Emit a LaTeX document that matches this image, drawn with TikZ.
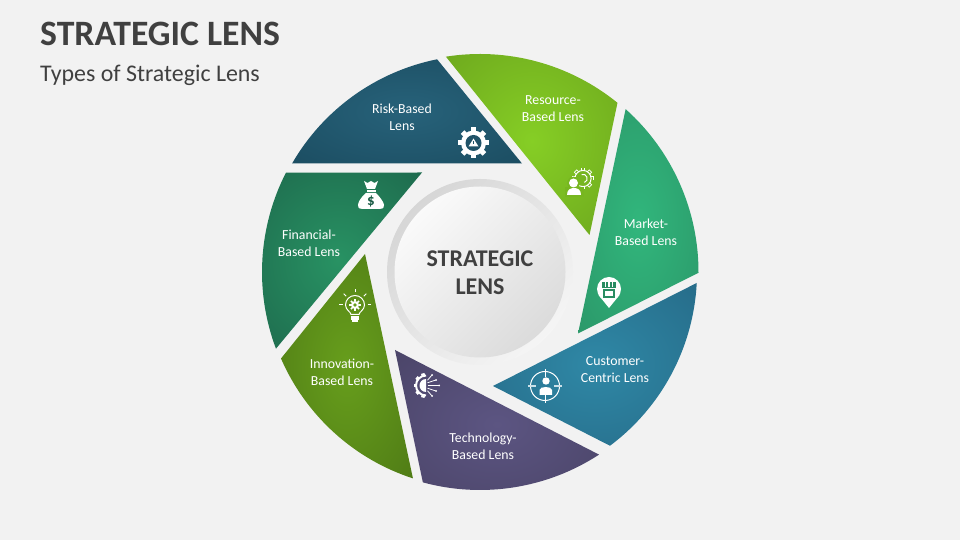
\documentclass[tikz,border=0pt]{standalone}
\usepackage{fontspec}
\setmainfont{Carlito}
\definecolor{slideGray}{HTML}{F2F2F2}
\definecolor{titleGray}{HTML}{404040}
\definecolor{riskIn}{HTML}{27627A}
\definecolor{riskOut}{HTML}{174558}
\definecolor{resourceIn}{HTML}{86CE25}
\definecolor{resourceOut}{HTML}{64991B}
\definecolor{marketIn}{HTML}{31B67C}
\definecolor{marketOut}{HTML}{298C62}
\definecolor{customerIn}{HTML}{2F88A6}
\definecolor{customerOut}{HTML}{23617E}
\definecolor{techIn}{HTML}{5C5582}
\definecolor{techOut}{HTML}{443E5E}
\definecolor{innovIn}{HTML}{679E1C}
\definecolor{innovOut}{HTML}{466E13}
\definecolor{financeIn}{HTML}{289263}
\definecolor{financeOut}{HTML}{1A5B45}
\colorlet{gearGreen}{resourceIn!55!resourceOut}
\pgfdeclareradialshading{riskShade}{\pgfpointorigin}{color(0bp)=(riskIn); color(50bp)=(riskOut)}
\pgfdeclareradialshading{resourceShade}{\pgfpointorigin}{color(0bp)=(resourceIn); color(50bp)=(resourceOut)}
\pgfdeclareradialshading{marketShade}{\pgfpointorigin}{color(0bp)=(marketIn); color(50bp)=(marketOut)}
\pgfdeclareradialshading{customerShade}{\pgfpointorigin}{color(0bp)=(customerIn); color(50bp)=(customerOut)}
\pgfdeclareradialshading{techShade}{\pgfpointorigin}{color(0bp)=(techIn); color(50bp)=(techOut)}
\pgfdeclareradialshading{innovShade}{\pgfpointorigin}{color(0bp)=(innovIn); color(50bp)=(innovOut)}
\pgfdeclareradialshading{financeShade}{\pgfpointorigin}{color(0bp)=(financeIn); color(50bp)=(financeOut)}
\newcommand{\lensSegment}[5]{\shade[shading=#1,shift={(hub)}] (#2:#5) arc[start angle=#2,end angle=#3,radius=#5pt] -- (#4) -- cycle;}
\newcommand{\gearTeeth}[4]{\foreach \a in {0,45,...,315} \draw[white,line width=#4] (#1) ++(\a:#2) -- ++(\a:#3);}
\tikzset{
    lensLabel/.style={white,align=center,inner sep=0pt,font=\fontsize{13.8}{17}\selectfont},
    iconLine/.style={white,line width=1pt}
}

\begin{document}
\begin{tikzpicture}[x=1pt,y=1pt]
    \useasboundingbox (0,0) rectangle (960,540);
    \fill[slideGray] (0,0) rectangle (960,540);
    \node[anchor=base west,inner sep=0pt,titleGray,font=\fontsize{35.7}{40}\selectfont\bfseries] (mainTitle) at (40,494){STRATEGIC LENS};
    \node[anchor=base west,inner sep=0pt,titleGray,font=\fontsize{23.9}{28}\selectfont] (subTitle) at (40,458){Types of Strategic Lens};

    \coordinate (hub) at (480,268);
    \coordinate (riskTip) at (522,376.5);
    \coordinate (resourceTip) at (589.5,305);
    \coordinate (marketTip) at (578,206.5);
    \coordinate (customerTip) at (493,154);
    \coordinate (techTip) at (395,190);
    \coordinate (innovTip) at (365,286);
    \coordinate (financeTip) at (422,367.5);
    \lensSegment{riskShade}{101.4}{150}{riskTip}{217}
    \lensSegment{resourceShade}{99}{50.9}{resourceTip}{218}
    \lensSegment{marketShade}{48.2}{-0.2}{marketTip}{218.5}
    \lensSegment{customerShade}{-2.9}{-53.2}{customerTip}{217}
    \lensSegment{techShade}{-56.9}{-105.2}{techTip}{218}
    \lensSegment{innovShade}{-108}{-156.5}{innovTip}{217}
    \lensSegment{financeShade}{200.6}{152.9}{financeTip}{218}

    % centre disc
    \shade[top color=black!16,bottom color=white!96!black,shading angle=45] (hub) circle (93);
    \shade[top color=white!98!black,bottom color=black!14,shading angle=45] (hub) circle (85.5);
    \node[align=center,inner sep=0pt,titleGray,font=\fontsize{24}{28}\selectfont\bfseries] (hubLabel) at (480,267){STRATEGIC\\LENS};

    \node[lensLabel] (riskLabel) at (402,423){Risk-Based\\Lens};
    \node[lensLabel] (resourceLabel) at (553,431.5){Resource-\\Based Lens};
    \node[lensLabel] (marketLabel) at (646,308){Market-\\Based Lens};
    \node[lensLabel] (customerLabel) at (615,170.5){Customer-\\Centric Lens};
    \node[lensLabel] (techLabel) at (483,94){Technology-\\Based Lens};
    \node[lensLabel] (innovLabel) at (342,168){Innovation-\\Based Lens};
    \node[lensLabel] (financeLabel) at (309,297){Financial-\\Based Lens};

    % risk icon
    \coordinate (riskGear) at (473.5,397);
    \fill[white] (riskGear) circle (12.5);
    \gearTeeth{riskGear}{11}{4.5}{5pt}
    \fill[riskIn!85!black] (riskGear) circle (8);
    \fill[white] (473.5,401.5) -- (478.5,393.5) -- (468.5,393.5) -- cycle;
    \draw[riskIn!85!black,line width=.8pt] (473.5,399) -- (473.5,396);
    % money bag
    \fill[white] (366,347) .. controls (360,342) and (358,337) .. (358,335) .. controls (358,331) and (361,331) .. (363,331) -- (379,331) .. controls (381,331) and (384,331) .. (384,335) .. controls (384,337) and (381,342) .. (376,347) -- cycle;
    \fill[white] (364,359) -- (367.5,357) -- (371,359) -- (374.5,357) -- (378,359) -- (375,351) -- (367,351) -- cycle;
    \fill[white] (366.5,350) rectangle (375.5,348);
    \node[inner sep=0pt,financeOut,font=\fontsize{15}{15}\selectfont\bfseries] (bagSign) at (371,339){\$};
    % person and gear
    \coordinate (resGear) at (583,361.5);
    \gearTeeth{resGear}{7.5}{3.4}{4pt}
    \foreach \a in {0,45,...,315} \draw[gearGreen,line width=2.2pt] (resGear) ++(\a:7) -- ++(\a:3);
    \fill[gearGreen] (resGear) circle (7.8);
    \draw[iconLine] (resGear) circle (8.1);
    \draw[iconLine] (resGear) ++(-70:4.2) arc[start angle=-70,end angle=110,radius=4.2pt];
    \fill[gearGreen] (573.5,357) circle (6.3);
    \fill[gearGreen] (565,343) rectangle (583.5,353);
    \fill[white] (573.5,357) circle (4.5);
    \fill[white] (567,345) .. controls (567,350) and (570,352) .. (574,352) .. controls (578,352) and (581,350) .. (581,345) -- cycle;
    % map pin
    \fill[white] (609,251) circle (12);
    \fill[white] (609,232) -- (598.5,245) -- (619.5,245) -- cycle;
    \fill[marketOut] (602,257.5) rectangle (616,251.5);
    \fill[marketOut] (603,250.5) rectangle (615,242);
    \foreach \x in {604.5,608,611.5} \fill[white] (\x,257.5) rectangle ++(1.5,-5);
    \fill[white] (605,249) rectangle (613,244);
    % target person
    \coordinate (custIcon) at (545,154);
    \draw[iconLine] (custIcon) circle (14.5);
    \draw[white!75!customerIn,line width=2.5pt] (528,154) -- (536,154);
    \draw[white!75!customerIn,line width=2.5pt] (554,154) -- (562,154);
    \draw[iconLine] (545.5,171) -- (545.5,163);
    \draw[iconLine] (545.5,146) -- (545.5,137);
    \fill[white] (546,159) circle (3.7);
    \fill[white] (539.5,145) -- (539.5,150) .. controls (539.5,154) and (552,154) .. (552,150) -- (552,145) -- cycle;
    % tech gear
    \coordinate (techGear) at (426,154.5);
    \draw[white,line width=2pt] (techGear) ++(90:10) arc[start angle=90,end angle=270,radius=10pt];
    \foreach \a in {105,140,180,220,255} \draw[white,line width=3.5pt] (techGear) ++(\a:9.5) -- ++(\a:3);
    \fill[white] (techGear) ++(90:6.5) arc[start angle=90,end angle=270,radius=6.5pt] -- cycle;
    \foreach \y/\e in {165/432,160/436,154.5/439,149/436,144/432} {
        \draw[white,line width=.8pt] (427.5,\y/2+77.25) -- (\e,\y);
        \fill[white] (\e,\y) circle (1);
    }
    % bulb
    \coordinate (bulbIcon) at (355,235);
    \draw[iconLine] (351,225.5) .. controls (351,228) and (345.5,230) .. (345.5,235) arc[start angle=180,end angle=0,radius=9.5pt] .. controls (364.5,230) and (359,228) .. (359,225.5) -- cycle;
    \fill[white] (351,224) rectangle (359,220);
    \fill[white] (352,220) rectangle (358,217.5);
    \fill[white] (bulbIcon) circle (4);
    \gearTeeth{bulbIcon}{3.5}{2.3}{1.7pt}
    \fill[innovIn] (bulbIcon) circle (1.8);
    \foreach \a in {0,45,90,135,180} \draw[iconLine] (bulbIcon) ++(\a:12.5) -- ++(\a:3.5);
\end{tikzpicture}
\end{document}
